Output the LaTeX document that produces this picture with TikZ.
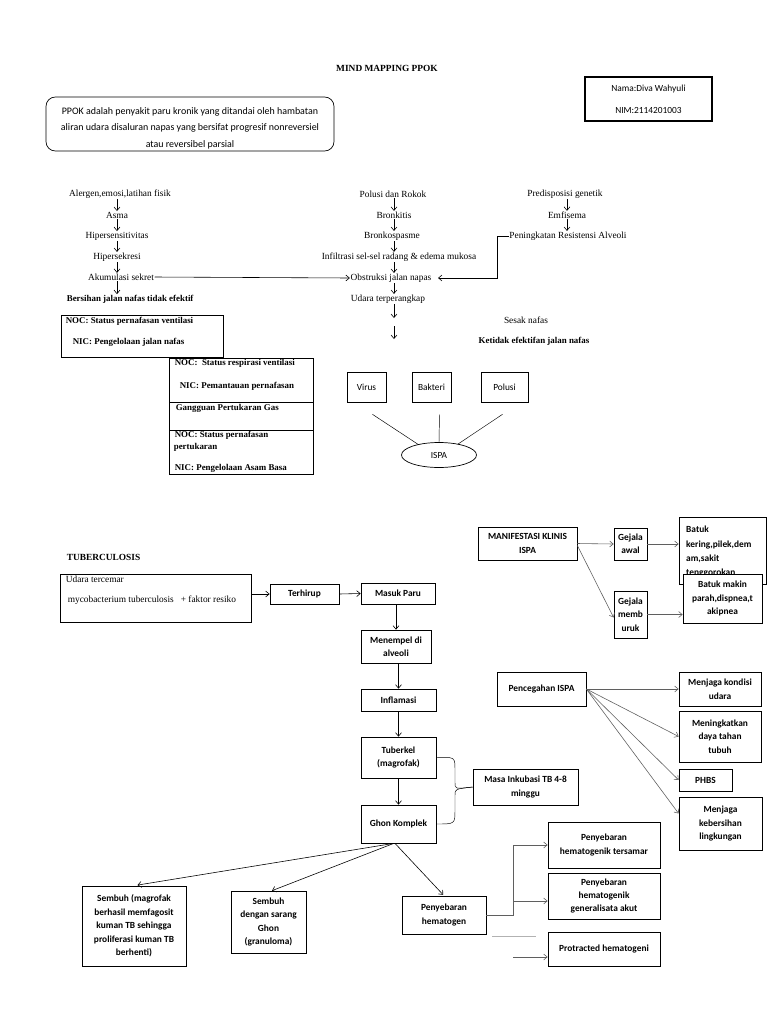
\documentclass[tikz,border=0pt]{standalone}
\usepackage{fontspec}
\setmainfont{Liberation Serif}
\setsansfont{Carlito}
\usetikzlibrary{arrows.meta, positioning, fit, shapes.geometric}
\definecolor{linegray}{RGB}{95,95,95}

\begin{document}
\begin{tikzpicture}[
  x=0.03cm, y=-0.03cm,
  txt/.style={font=\fontsize{8}{10}\selectfont, inner sep=0.5pt},
  btxt/.style={font=\fontsize{7.6}{10}\selectfont\bfseries, inner sep=0.5pt},
  box/.style={draw, line width=0.6pt, inner sep=0pt, align=center,
              font=\sffamily\fontsize{8}{11.5}\selectfont},
  bbox/.style={box, font=\sffamily\bfseries\fontsize{8}{11.5}\selectfont},
  wh/.style 2 args={minimum width=#1*0.03cm, minimum height=#2*0.03cm},
  arr/.style={-{Straight Barb[length=3pt, width=5pt]}, line width=0.5pt},
  garr/.style={arr, linegray}]

  \useasboundingbox (0,0) rectangle (768,1024);

  % header
  \node[btxt, font=\fontsize{8}{10}\selectfont\bfseries] (title) at (387,68) {MIND MAPPING PPOK};
  \node[box, line width=1.2pt, wh={127}{44}] (nama) at (648.5,99)
    {Nama:Diva Wahyuli\\[7pt]NIM:2114201003};
  \node[box, rounded corners=8pt, fit={(46,97) (334,151)}] (ppok) {};
  \node[align=center, inner sep=0pt, font=\sffamily\fontsize{8.5}{14}\selectfont] (ppoktxt) at (190,128)
    {PPOK adalah penyakit paru kronik yang ditandai oleh hambatan\\
     aliran udara disaluran napas yang bersifat progresif nonreversiel\\
     atau reversibel parsial};

  % asma
  \node[txt] (alergen) at (120,194) {Alergen,emosi,latihan fisik};
  \node[txt] (asma)    at (117,215) {Asma};
  \node[txt] (hipsen)  at (117,236) {Hipersensitivitas};
  \node[txt] (hipsek)  at (117,257) {Hipersekresi};
  \node[txt] (akum)    at (121,277) {Akumulasi sekret};
  \node[btxt, anchor=west] (bersihan) at (66,299) {Bersihan jalan nafas tidak efektif};
  \foreach \a/\b in {alergen/asma, asma/hipsen, hipsen/hipsek, hipsek/akum, akum/bersihan}
    \draw[arr] (hipsek.south |- \a.south) -- (hipsek.south |- \b.north);

  % bronkitis
  \node[txt] (polusi)   at (393,194) {Polusi dan Rokok};
  \node[txt] (bronk)    at (394,215) {Bronkitis};
  \node[txt] (spasme)   at (392,236) {Bronkospasme};
  \node[txt] (infil)    at (399,257) {Infiltrasi sel-sel radang \& edema mukosa};
  \node[txt] (obs)      at (391,278) {Obstruksi jalan napas};
  \node[txt] (trap)     at (388,299) {Udara terperangkap};
  \foreach \a/\b in {polusi/bronk, bronk/spasme, spasme/infil, infil/obs, obs/trap}
    \draw[arr] (bronk.south |- \a.south) -- (bronk.south |- \b.north);
  \coordinate (drop1) at (394,318);
  \coordinate (drop2) at (394,326);
  \coordinate (drop3) at (394,339);
  \draw[arr] (bronk.south |- trap.south) -- (drop1);
  \draw[arr] (drop2) -- (drop3);

  % emfisema
  \node[txt] (predis) at (565,194) {Predisposisi genetik};
  \node[txt] (emfis)  at (567,215) {Emfisema};
  \node[txt] (pening) at (568,236) {Peningkatan Resistensi Alveoli};
  \foreach \a/\b in {predis/emfis, emfis/pening}
    \draw[arr] (emfis.south |- \a.south) -- (emfis.south |- \b.north);
  \draw[arr] (pening.west) -- ++(-11,0) |- ([xshift=5pt]obs.east);
  \draw[arr] (akum.east) -- (obs.west);
  \node[txt]  (sesak)   at (526,320) {Sesak nafas};
  \node[btxt] (ketidak) at (534,341) {Ketidak efektifan jalan nafas};

  % NOC / NIC
  \node[box, fit={(61,315) (223,357)}] (noc1) {};
  \node[btxt, anchor=west] (noc1a) at (65,321) {NOC: Status pernafasan ventilasi};
  \node[btxt, anchor=west] (noc1b) at (72,342) {NIC: Pengelolaan jalan nafas};
  \node[box, fit={(169,358) (313,402)}] (noc2) {};
  \node[box, fit={(169,402) (313,430)}] (gas) {};
  \node[box, fit={(169,430) (313,474)}] (noc3) {};
  \node[btxt, anchor=west] (noc2a) at (174,363) {NOC:\ \ Status respirasi ventilasi};
  \node[btxt, anchor=west] (noc2b) at (179,386) {NIC: Pemantauan pernafasan};
  \node[btxt, anchor=west] (gasa)  at (175,408) {Gangguan Pertukaran Gas};
  \node[btxt, anchor=west] (noc3a) at (174,435) {NOC: Status pernafasan};
  \node[btxt, anchor=west] (noc3b) at (173,447) {pertukaran};
  \node[btxt, anchor=west] (noc3c) at (174,468) {NIC: Pengelolaan Asam Basa};

  % ISPA
  \node[box, wh={39}{30}] (virus)   at (366.5,387) {Virus};
  \node[box, wh={39}{30}] (bakteri) at (431.5,387) {Bakteri};
  \node[box, wh={47}{30}] (polus)   at (504.5,387) {Polusi};
  \node[box, ellipse, wh={75}{25}] (ispa) at (439,455) {ISPA};
  \draw ([shift={(6,12)}]virus.south) -- (ispa.153);
  \draw ([shift={(8,12)}]bakteri.south) -- (ispa.north);
  \draw ([shift={(-2,12)}]polus.south) -- (ispa.30);

  % manifestasi klinis
  \node[bbox, wh={99}{33}] (manif) at (527.5,543.5) {MANIFESTASI KLINIS\\ISPA};
  \node[bbox, wh={33}{32}] (awal)  at (630.5,544) {Gejala\\awal};
  \node[bbox, wh={33}{47}] (buruk) at (630.5,614.5) {Gejala\\memb\\uruk};
  \node[box, fit={(679,517) (766,584)}] (batuk1) {};
  \node[anchor=north west, align=left, inner sep=0pt,
        font=\sffamily\bfseries\fontsize{8}{12.2}\selectfont] (batuk1txt) at (686,526)
    {Batuk\\kering,pilek,dem\\am,sakit\\tenggorokan};
  \node[bbox, fill=white, wh={79}{49}] (batuk2) at (722.5,598.5)
    {Batuk makin\\parah,dispnea,t\\akipnea};
  \draw[garr] (manif.east) -- (awal.west);
  \draw[garr] ([shift={(0,2)}]manif.east) -- ([shift={(0,3)}]buruk.west);
  \draw[garr] (awal.east) -- (awal.east -| batuk1.west);
  \draw[garr] (buruk.east) -- (buruk.east -| batuk2.west);

  % pencegahan
  \node[bbox, wh={89}{34}] (cegah)   at (541.5,689) {Pencegahan ISPA};
  \node[bbox, wh={82}{34}] (kondisi) at (720,689) {Menjaga kondisi\\udara};
  \node[bbox, wh={82}{51}] (imun)    at (720,736.5) {Meningkatkan\\daya tahan\\tubuh};
  \node[bbox, wh={53}{22}] (phbs)    at (705.5,780) {PHBS};
  \node[bbox, wh={83}{53}] (bersih)  at (720.5,823.5) {Menjaga\\kebersihan\\lingkungan};
  \draw[garr] (cegah.east) -- (kondisi.west);
  \draw[garr] (cegah.east) -- (imun.west);
  \draw[garr] (cegah.east) -- (phbs.west);
  \draw[garr] (cegah.east) -- ([shift={(0,-10)}]bersih.west);

  % tuberculosis
  \node[btxt, font=\fontsize{8}{10}\selectfont\bfseries, anchor=west] (tbc) at (66,557) {TUBERCULOSIS};
  \node[box, fit={(60,574) (251,622)}] (cemar) {};
  \node[txt, anchor=west] (cemartxt) at (65,579) {Udara tercemar};
  \node[txt, anchor=west] (myco) at (67,600) {mycobacterium tuberculosis \ \ + faktor resiko};
  \node[bbox, wh={69}{20}]  (hirup)    at (304.5,594) {Terhirup};
  \node[bbox, wh={74}{21}]  (paru)     at (398,593.5) {Masuk Paru};
  \node[bbox, wh={70}{33}]  (tempel)   at (396,646.5) {Menempel di\\alveoli};
  \node[bbox, wh={75}{22}]  (radang)   at (398.5,700) {Inflamasi};
  \node[bbox, wh={75}{41}]  (tuberkel) at (398.5,757.5) {Tuberkel\\(magrofak)};
  \node[bbox, wh={75}{38}]  (ghon)     at (398.5,824) {Ghon Komplek};
  \node[bbox, wh={105}{36}] (masa)     at (525.5,787) {Masa Inkubasi TB 4-8\\minggu};
  \draw[arr] (cemar.east |- hirup.west) -- (hirup.west);
  \draw[arr] (hirup.east) -- (paru.west);
  \foreach \a/\b in {paru/tempel, tempel/radang, radang/tuberkel, tuberkel/ghon}
    \draw[arr] (\b.north |- \a.south) -- (\b.north);
  \draw (tuberkel.east) .. controls (455,757) .. (455,770) -- (455,783)
        .. controls (455,789) .. (masa.west);
  \draw (ghon.east) .. controls (455,824) .. (455,810) -- (455,795)
        .. controls (455,789) .. (masa.west);

  \node[bbox, wh={104}{80}] (sembuh1) at (134,926)
    {Sembuh (magrofak\\berhasil memfagosit\\kuman TB sehingga\\proliferasi kuman TB\\berhenti)};
  \node[bbox, wh={75}{62}] (sembuh2) at (268.5,922)
    {Sembuh\\dengan sarang\\Ghon\\(granuloma)};
  \node[bbox, wh={84}{38}]  (hemato)   at (444,915) {Penyebaran\\hematogen};
  \node[bbox, wh={112}{46}] (samar)    at (604,845) {Penyebaran\\hematogenik tersamar};
  \node[bbox, wh={112}{46}] (akut)     at (604,896) {Penyebaran\\hematogenik\\generalisata akut};
  \node[bbox, wh={112}{34}] (protract) at (604,949) {Protracted hematogeni};
  \draw[arr, shorten >=3pt] ([xshift=-4pt]ghon.south) -- (sembuh1.north);
  \draw[arr] ([xshift=-4pt]ghon.south) -- ([xshift=3pt]sembuh2.north);
  \draw[arr, shorten >=1pt] ([xshift=-3pt]ghon.south) -- (hemato.north);
  \draw[garr] (hemato.east) -- ++(27,0) |- (samar.west);
  \draw[garr] (hemato.east) -- ++(27,0) |- ([shift={(0,5)}]akut.west);
  \coordinate (stub1) at (492,936);
  \coordinate (stub2) at (536,936);
  \coordinate (stub3) at (513,957);
  \draw[gray!60, line width=0.8pt] (stub1) -- (stub2);
  \draw[garr] (stub3) -- (stub3 -| protract.west);
\end{tikzpicture}
\end{document}
